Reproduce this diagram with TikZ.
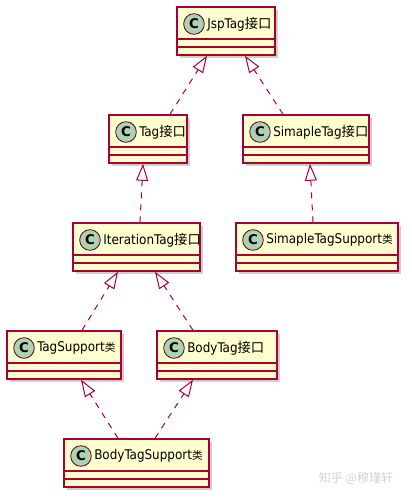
\documentclass[tikz,border=0pt]{standalone}
\usepackage{fontspec}
\setmainfont{DejaVu Sans}
\newfontfamily\umlfont{DejaVu Sans Condensed}
\newfontfamily\cjk{Noto Sans CJK SC}
\usetikzlibrary{arrows.meta,fit}
\definecolor{umlred}{RGB}{168,0,54}
\definecolor{umlfill}{RGB}{254,254,206}
\definecolor{umlspotfill}{RGB}{173,209,178}

\tikzset{
  umlbox/.style={draw=umlred, fill=umlfill, line width=1.1pt, inner sep=0pt},
  umlsep/.style={draw=umlred, line width=1.1pt},
  umlshadow/.style={fill=black!35, opacity=0.55},
  umlspot/.style={circle, draw=umlred!50!black, fill=umlspotfill, line width=0.6pt, minimum size=15.5pt, inner sep=0pt, font=\bfseries\fontsize{10}{10}\selectfont},
  umlname/.style={anchor=west, inner sep=0pt, font=\umlfont\fontsize{10}{10}\selectfont},
  realize/.style={draw=umlred, line width=0.75pt, dash pattern=on 4.5pt off 4.5pt, -{Triangle[open,length=12.75pt,width=9pt]}},
}

\newcommand{\umlclass}[5]{% name, left, right, top, text
  \fill[umlshadow] (#2+3,#4+3) rectangle (#3+3,#4+51);
  \node[umlbox, fit={(#2,#4) (#3,#4+48)}] (#1) {};
  \draw[umlsep] (#2,#4+32) -- (#3,#4+32);
  \draw[umlsep] (#2,#4+40) -- (#3,#4+40);
  \node[umlspot] (#1-spot) at (#2+17,#4+17) {C};
  \node[umlname] (#1-name) at (#2+30,#4+17) {#5};
}
\newcommand{\jie}{{\cjk 接口}}
\newcommand{\lei}{{\cjk\fontsize{8}{10}\selectfont 类}}

\begin{document}
\begin{tikzpicture}[x=0.75pt,y=0.75pt,yscale=-1,xscale=1]
\useasboundingbox (0,0) rectangle (411,500);
\umlclass{jsp}{177}{275}{7}{JspTag\jie}
\umlclass{tag}{109}{187}{115}{Tag\jie}
\umlclass{simtag}{243}{369}{115}{SimapleTag\jie}
\umlclass{iter}{73}{200}{223}{IterationTag\jie}
\umlclass{simsup}{236}{398}{223}{SimapleTagSupport\lei}
\umlclass{tagsup}{7}{121}{331}{TagSupport\lei}
\umlclass{body}{157}{277}{331}{BodyTag\jie}
\umlclass{bodysup}{64}{209}{439}{BodyTagSupport\lei}
\draw[realize] (tag.north -| 170,0) -- (jsp.south -| 207,0);
\draw[realize] (simtag.north -| 283,0) -- (jsp.south -| 245,0);
\draw[realize] (iter.north -| 140,0) -- (tag.south -| 143,0);
\draw[realize] (simsup.north -| 313,0) -- (simtag.south -| 310,0);
\draw[realize] (tagsup.north -| 82,0) -- (iter.south -| 118,0);
\draw[realize] (body.north -| 193,0) -- (iter.south -| 155,0);
\draw[realize] (bodysup.north -| 118,0) -- (tagsup.south -| 81,0);
\draw[realize] (bodysup.north -| 155,0) -- (body.south -| 193,0);
\node[font=\cjk\fontsize{9}{10}\selectfont, text=black!18] (mark) at (356,478) {知乎 @穆瑾轩};
\end{tikzpicture}
\end{document}
